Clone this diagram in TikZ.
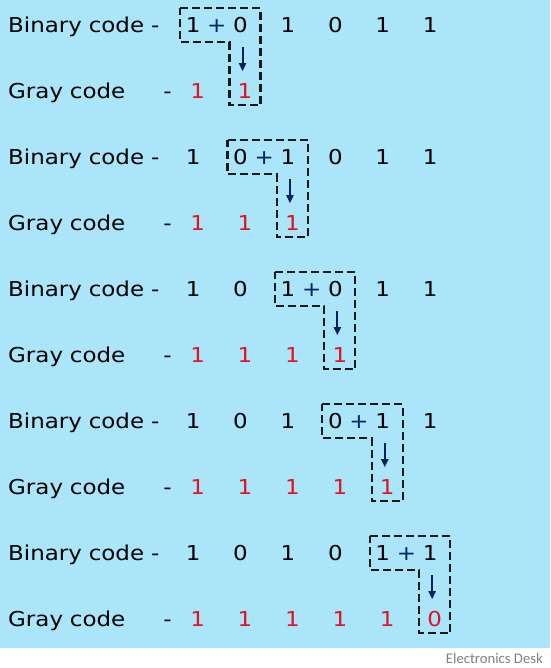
\documentclass[tikz,border=0pt]{standalone}
\usepackage{fontspec}
\setmainfont{DejaVu Sans}[FakeStretch=1.12]
\newfontfamily\deskfont{Carlito}
\usetikzlibrary{matrix,calc,arrows.meta}
\definecolor{bgblue}{RGB}{170,229,250}
\definecolor{bitred}{RGB}{226,18,30}
\definecolor{xorblue}{RGB}{0,32,96}
\tikzset{
codetable/.style={
  matrix of nodes,
  inner sep=0pt,
  row sep=46pt,
  column sep=0pt,
  nodes={rectangle,inner sep=0pt,anchor=base,text width=42.9pt,align=center,
    font=\fontsize{20.5}{24}\selectfont,text depth=5pt,text height=15pt},
  nodes in empty cells
},
column 1/.style={nodes={text width=163.5pt,align=left}},
gbit/.style={text=bitred,xshift=4.5pt},
xorsign/.style={anchor=base,inner sep=0pt,text=xorblue,font=\fontsize{20.5}{24}\selectfont},
pairbox/.style={draw=black!90,line width=2.2pt,dash pattern=on 8pt off 4pt},
bitarrow/.style={xorblue,line width=1.9pt,-{Triangle[length=8pt,width=7pt]}}
}

\begin{document}
\begin{tikzpicture}[x=1pt,y=-1pt]
\useasboundingbox (0,0) rectangle (550,668);
\fill[white] (0,0) rectangle (550,668);
\fill[bgblue] (0,0) rectangle (550,648);
\matrix (mat) [codetable,anchor=north west] at (8,17.5) {
    Binary code - & 1 & 0 & 1 & 0 & 1 & 1 \\
    Gray code\hfill- & |[gbit]| 1 & |[gbit]| 1 & & & & \\
    Binary code - & 1 & 0 & 1 & 0 & 1 & 1 \\
    Gray code\hfill- & |[gbit]| 1 & |[gbit]| 1 & |[gbit]| 1 & & & \\
    Binary code - & 1 & 0 & 1 & 0 & 1 & 1 \\
    Gray code\hfill- & |[gbit]| 1 & |[gbit]| 1 & |[gbit]| 1 & |[gbit]| 1 & & \\
    Binary code - & 1 & 0 & 1 & 0 & 1 & 1 \\
    Gray code\hfill- & |[gbit]| 1 & |[gbit]| 1 & |[gbit]| 1 & |[gbit]| 1 & |[gbit]| 1 & \\
    Binary code - & 1 & 0 & 1 & 0 & 1 & 1 \\
    Gray code\hfill- & |[gbit]| 1 & |[gbit]| 1 & |[gbit]| 1 & |[gbit]| 1 & |[gbit]| 1 & |[gbit]| 0 \\
};
% the xor steps
\foreach \r/\c in {1/2,3/3,5/4,7/5,9/6}
{
  \pgfmathtruncatemacro{\g}{\r+1}
  \pgfmathtruncatemacro{\d}{\c+1}
  \node[xorsign] (xor-\r) at ($(mat-\r-\c.base)!.5!(mat-\r-\d.base)$) {+};
  \coordinate (tl-\r) at ([xshift=-13pt,yshift=24.5pt]mat-\r-\c.base);
  \coordinate (br-\r) at ([xshift=15.5pt,yshift=-6.5pt]mat-\g-\d.base);
  \coordinate (nx-\r) at ([xshift=-15.5pt]mat-\g-\d.base);
  \coordinate (my-\r) at ([yshift=-9.5pt]mat-\r-\c.base);
  \draw[pairbox] (tl-\r) -| (br-\r) -| (nx-\r |- my-\r) -- (tl-\r |- my-\r) -- cycle;
  \draw[bitarrow]
    ([xshift=2pt,yshift=-14.5pt]mat-\r-\d.base) --
    ([xshift=-2.5pt,yshift=27.5pt]mat-\g-\d.base);
}
\node[anchor=base east,inner sep=0pt,text=gray,font=\deskfont\fontsize{14.7}{16}\selectfont]
  (credit) at (543,663) {Electronics Desk};
\end{tikzpicture}
\end{document}
